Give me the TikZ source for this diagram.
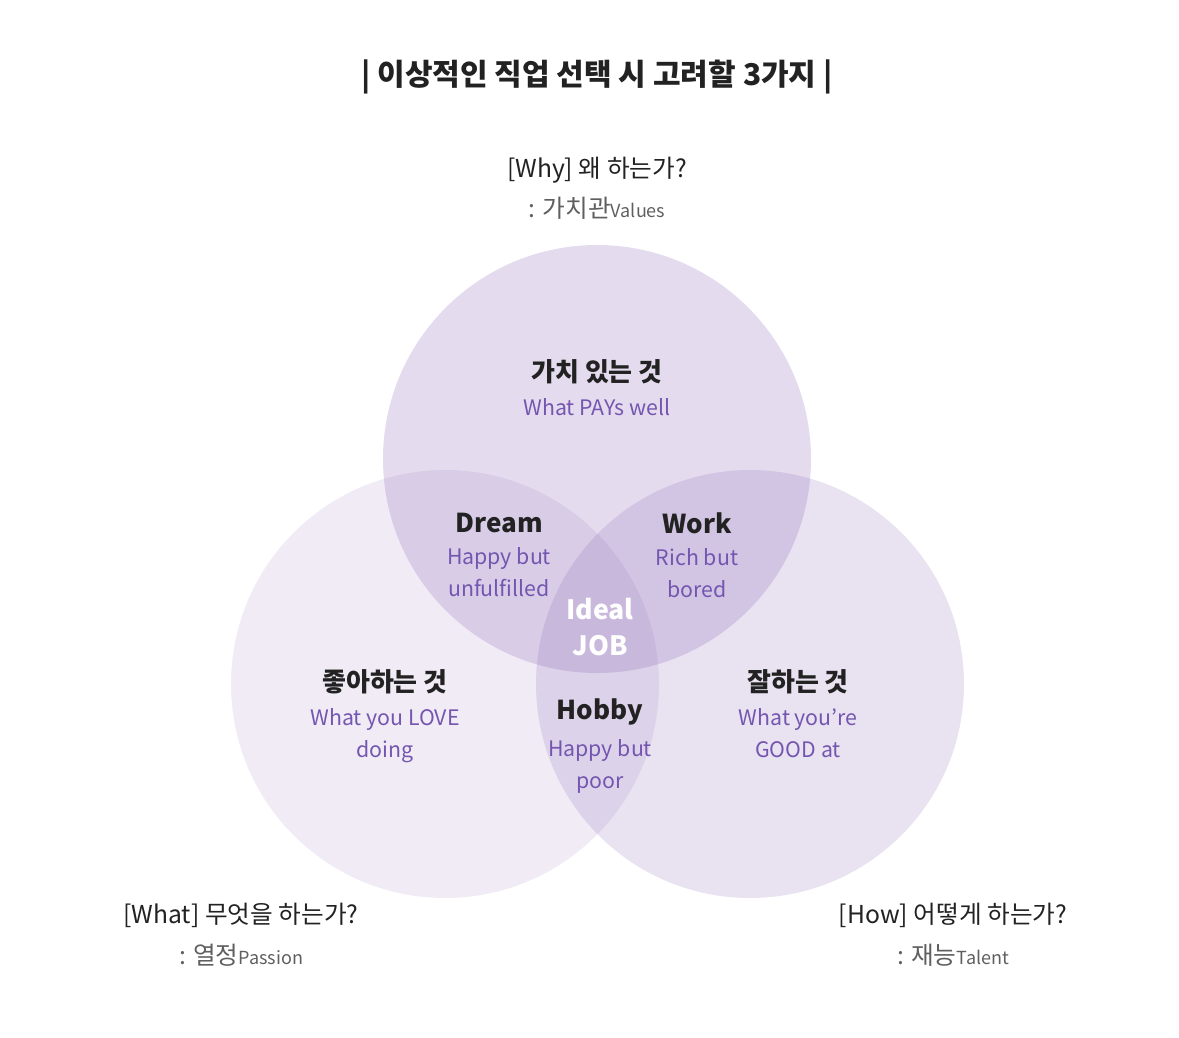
\documentclass[tikz,border=0pt]{standalone}
\usepackage{fontspec}
\setmainfont{Noto Sans CJK KR}
\usetikzlibrary{positioning}
\definecolor{vennpurple}{RGB}{120, 80, 170}
\definecolor{labelpurple}{RGB}{116, 86, 176}
\definecolor{darktext}{RGB}{34, 34, 34}
\definecolor{graytext}{RGB}{95, 95, 95}

\begin{document}
\begin{tikzpicture}[x=0.75pt, y=-0.75pt,
  venn/.style={circle, minimum size=321pt, inner sep=0pt, fill=vennpurple},
  areahead/.style={font=\fontsize{19.5}{22}\selectfont\bfseries, text=darktext, inner sep=0pt},
  areatext/.style={font=\fontsize{16}{24}\selectfont, text=labelpurple, align=center, inner sep=0pt},
  question/.style={font=\fontsize{18.5}{22}\selectfont, text=darktext, inner sep=0pt},
  answer/.style={font=\fontsize{18.5}{22}\selectfont, text=graytext, inner sep=0pt}]
  \useasboundingbox (0, 0) rectangle (1179, 1038);

  % Title
  \node[font=\fontsize{22.5}{26}\selectfont\bfseries, text=darktext] (title) at (597, 77) {| 이상적인 직업 선택 시 고려할 3가지 |};

  % Circles
  \node[venn, fill opacity=0.2] (values) at (597, 459) {};
  \node[venn, fill opacity=0.115] (passion) at (445, 684) {};
  \node[venn, fill opacity=0.165] (talent) at (750, 684) {};

  % Outer questions
  \node[question] (why) at (597, 170) {[Why] 왜 하는가?};
  \node[answer, below=10pt of why] (whyans) {: 가치관{\fontsize{13.5}{16}\selectfont Values}};
  \node[question] (what) at (241, 915) {[What] 무엇을 하는가?};
  \node[answer, below=12pt of what] (whatans) {: 열정{\fontsize{13.5}{16}\selectfont Passion}};
  \node[question] (how) at (953, 915) {[How] 어떻게 하는가?};
  \node[answer, below=12pt of how] (howans) {: 재능{\fontsize{13.5}{16}\selectfont Talent}};

  % Single areas
  \node[areahead] (payhead) at (597, 372) {가치 있는 것};
  \node[areatext, below=10.5pt of payhead] (paytext) {What PAYs well};
  \node[areahead] (lovehead) at (385, 682) {좋아하는 것};
  \node[areatext, below=10.5pt of lovehead] (lovetext) {What you LOVE\\doing};
  \node[areahead] (goodhead) at (798, 682) {잘하는 것};
  \node[areatext, below=10.5pt of goodhead] (goodtext) {What you're\\GOOD at};

  % Overlaps
  \node[areahead] (dreamhead) at (499, 523) {Dream};
  \node[areatext, below=10.5pt of dreamhead] (dreamtext) {Happy but\\unfulfilled};
  \node[areahead] (workhead) at (697, 523) {Work};
  \node[areatext, below=10.5pt of workhead] (worktext) {Rich but\\bored};
  \node[areahead] (hobbyhead) at (600, 712) {Hobby};
  \node[areatext, below=10.5pt of hobbyhead] (hobbytext) {Happy but\\poor};

  % Center
  \node[font=\fontsize{20}{27}\selectfont\bfseries, text=white, align=center] (ideal) at (600, 627) {Ideal\\JOB};
\end{tikzpicture}
\end{document}
